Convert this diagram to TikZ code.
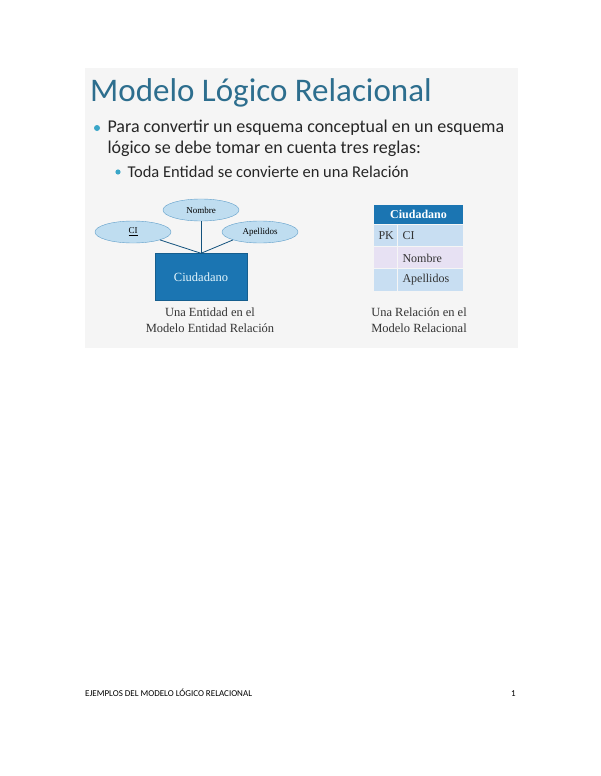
\documentclass[tikz,border=0pt]{standalone}
\usepackage{fontspec}
\setmainfont{Liberation Serif}
\newfontfamily\slidefont{Carlito}
\usetikzlibrary{shapes.geometric}
\definecolor{teal1}{HTML}{2D6E8E}
\definecolor{dot}{HTML}{3AA6C8}
\definecolor{boxblue}{HTML}{1B75B2}
\definecolor{rowblue}{HTML}{C8DEF2}
\definecolor{rowlav}{HTML}{E7E1F3}
\definecolor{ellfill}{HTML}{BFDDF0}
\tikzset{
  attr/.style={ellipse,draw=boxblue!70,fill=ellfill,minimum width=76pt,minimum height=22pt,inner sep=0pt,font=\fontsize{9}{10}\selectfont},
  bul/.style={anchor=west,font=\slidefont\fontsize{18}{20}\selectfont,text=black!85},
  captxt/.style={align=center,font=\fontsize{12.5}{16}\selectfont,text=black!80},
  cell/.style={anchor=west,font=\fontsize{12}{13}\selectfont,text=black!80}
}
\begin{document}
\begin{tikzpicture}[x=1pt,y=-1pt]
\useasboundingbox (0,0) rectangle (600,776);
\fill[black!4] (85,68) rectangle (518,348);
\node[anchor=base west,inner sep=0,text=teal1,font=\slidefont\fontsize{33}{35}\selectfont] (title) at (90,101) {Modelo Lógico Relacional};
\fill[dot] (97,128) circle (3);
\node[bul] (b1) at (104,128) {Para convertir un esquema conceptual en un esquema};
\node[bul] (b2) at (104,149) {lógico se debe tomar en cuenta tres reglas:};
\fill[dot] (118,172) circle (2.6);
\node[bul,font=\slidefont\fontsize{16.5}{18}\selectfont] (b3) at (124,172) {Toda Entidad se convierte en una Relación};
% ER
\node[draw=boxblue!80!black,fill=boxblue,minimum width=92pt,minimum height=47pt,text=white!90!cyan,font=\fontsize{12.5}{13}\selectfont] (ent) at (201,277) {Ciudadano};
\node[attr] (nom) at (201,210) {Nombre};
\node[attr] (ci) at (133,232) {\underline{CI}};
\node[attr] (ape) at (260,232) {Apellidos};
\coordinate (top) at (ent.north);
\draw[boxblue!70!black,thick] (nom.south) -- (top);
\draw[boxblue!70!black,thick] (ci.south east) -- (top);
\draw[boxblue!70!black,thick] (ape.south west) -- (top);
\node[captxt] (c1) at (210,320) {Una Entidad en el\\Modelo Entidad Relación};
% table
\fill[boxblue] (374,205) rectangle (463,224);
\node[text=white,font=\bfseries\fontsize{12}{13}\selectfont] (th) at (418.5,214.5) {Ciudadano};
\fill[rowblue] (374,225) rectangle (397,246);
\fill[rowblue] (398,225) rectangle (463,246);
\fill[rowlav] (374,247) rectangle (397,268);
\fill[rowlav] (398,247) rectangle (463,268);
\fill[rowblue] (374,269) rectangle (397,291);
\fill[rowblue] (398,269) rectangle (463,291);
\node[cell] (pk) at (375,236) {PK};
\node[cell] (r1) at (399,236) {CI};
\node[cell] (r2) at (399,258) {Nombre};
\node[cell] (r3) at (399,280) {Apellidos};
\node[captxt] (c2) at (419,320) {Una Relación en el\\Modelo Relacional};
% footer
\node[anchor=base west,inner sep=0,font=\slidefont\fontsize{9}{10}\selectfont] (foot) at (85,696) {EJEMPLOS DEL MODELO LÓGICO RELACIONAL};
\node[anchor=base east,inner sep=0,font=\slidefont\fontsize{9}{10}\selectfont] (pg) at (516,696) {1};
\end{tikzpicture}
\end{document}
